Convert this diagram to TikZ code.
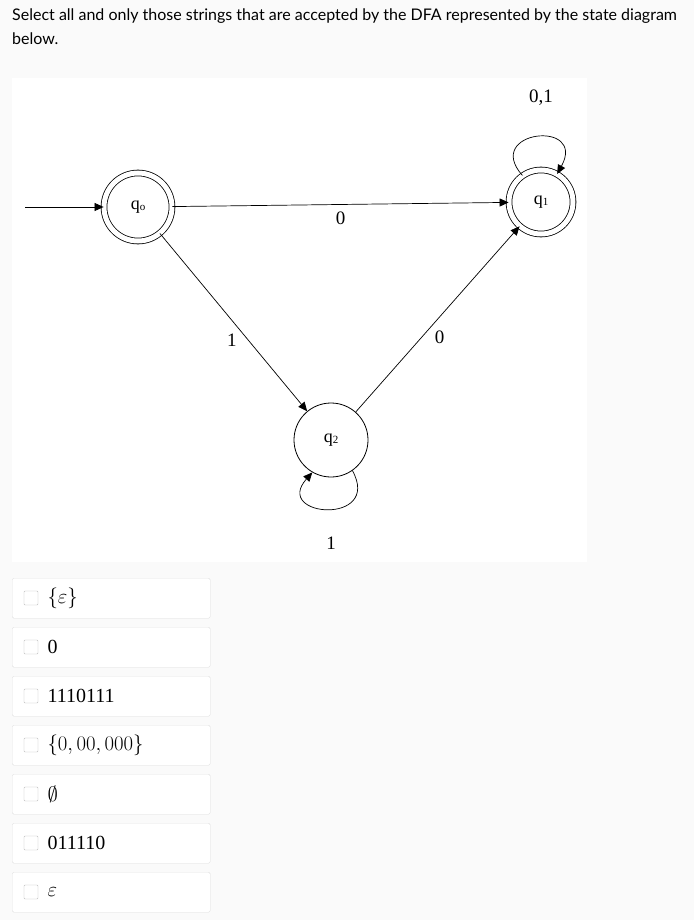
\documentclass[tikz,border=0pt]{standalone}
\usepackage{fontspec}
\setmainfont{Liberation Serif}
\newfontfamily\uisans{Lato}
\usepackage{amssymb}
\usetikzlibrary{arrows.meta}
\newcommand\subsc[1]{\raisebox{-1.5pt}{\fontsize{11}{11}\selectfont #1}}
\begin{document}
\begin{tikzpicture}[x=1pt,y=-1pt,
  st/.style={circle,draw,thick,minimum size=74pt,inner sep=0pt,font=\fontsize{18}{18}\selectfont},
  acc/.style={double,double distance=5pt,minimum size=66pt},
  ed/.style={-{Triangle[length=9pt,width=8pt]},line width=0.7pt},
  lab/.style={font=\fontsize{19}{19}\selectfont},
  optbox/.style={draw=black!12,fill=white,rounded corners=1.5pt,minimum width=198pt,minimum height=40pt,anchor=north west},
  chk/.style={draw=black!25,fill=white,rounded corners=1pt,minimum size=14pt,inner sep=0pt},
  opt/.style={anchor=west,font=\fontsize{20}{20}\selectfont}]
\fill[black!2] (0,0) rectangle (694,920);
\useasboundingbox (0,0) rectangle (694,920);
\node[anchor=north west,align=left,font=\uisans\fontsize{16}{24}\selectfont,inner sep=0pt] (h) at (12,9) {Select all and only those strings that are accepted by the DFA represented by the state diagram\\below.};
\fill[white] (12,78) rectangle (587,562);
\node[st,acc,minimum size=68pt] (q0) at (138,207) {q\subsc{o}};
\node[st,acc,minimum size=64pt] (q1) at (541,202) {q\subsc{1}};
\node[st] (q2) at (331,440) {q\subsc{2}};
\coordinate (init) at (25,207);
\draw[ed] (init) -- (q0);
\draw[ed] (q0) -- node[lab,below=4pt]{0} (q1);
\draw[ed] (q0) -- node[lab,pos=0.6,left=8pt]{1} (q2);
\draw[ed] (q2) -- node[lab,pos=0.4,right=10pt]{0} (q1);
\draw[ed] (q1.125) .. controls +(-40,-45) and +(30,-55) .. (q1.60);
\node[lab] (l1) at (541,98) {0,1};
\draw[ed] (q2.-55) .. controls +(30,55) and +(-40,45) .. (q2.-120);
\node[lab] (l2) at (331,543) {1};
\foreach \i/\t in {0/{$\{\varepsilon\}$},1/{0},2/{1110111},3/{$\{0,00,000\}$},4/{$\emptyset$},5/{011110},6/{$\varepsilon$}}{
  \node[optbox] (b\i) at (12,578+49*\i) {};
  \node[chk] (c\i) at (31,598+49*\i) {};
  \node[opt] (t\i) at (44,598+49*\i) {\t};
}
\end{tikzpicture}
\end{document}
